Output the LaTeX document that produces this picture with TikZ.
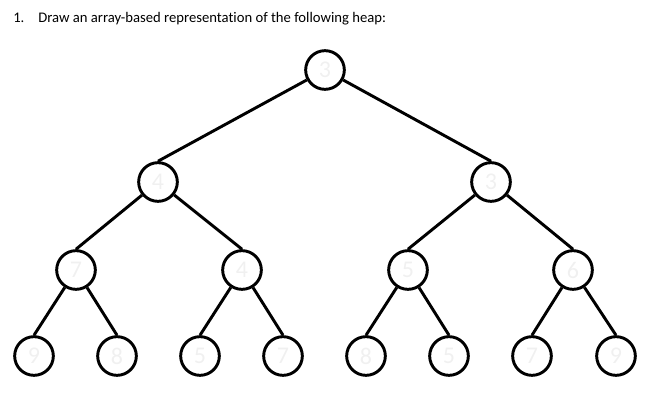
\documentclass[tikz,border=0pt]{standalone}
\usepackage{fontspec}
\setmainfont[Ligatures=NoCommon]{Carlito}
\usetikzlibrary{positioning}

\begin{document}
\begin{tikzpicture}[x=0.75pt, y=-0.75pt
    , key/.style={circle, draw, line width=2.2pt, minimum size=29pt, inner sep=0pt, text=black!6, font=\fontsize{18}{18}\selectfont}
    , link/.style={line width=2.2pt}
    , caption/.style={anchor=base west, inner sep=0pt, font=\fontsize{11}{13}\selectfont}
    ]
    \useasboundingbox (0,0) rectangle (661,406);
    \node[caption] (num) at (13,23) {1.};
    \node[caption] (task) at (38,23) {Draw an array-based representation of the following heap:};

    \node[key] (n1) at (325,70) {3};
    \node[key] (n2) at (158,182) {4};
    \node[key] (n3) at (491,182) {3};
    \node[key] (n4) at (76,270) {7};
    \node[key] (n5) at (242,270) {4};
    \node[key] (n6) at (408,270) {5};
    \node[key] (n7) at (573,270) {6};
    \foreach \i/\x/\v in {8/34/9, 9/117/8, 10/200/5, 11/283/7, 12/366/8, 13/449/5, 14/532/7, 15/616/9}
      \node[key] (n\i) at (\x,356) {\v};

    \foreach \p/\c in {1/2, 1/3, 2/4, 2/5, 3/6, 3/7, 4/8, 4/9, 5/10, 5/11, 6/12, 6/13, 7/14, 7/15}
      \draw[link] (n\p) -- (n\c.north);
  \end{tikzpicture}
\end{document}
